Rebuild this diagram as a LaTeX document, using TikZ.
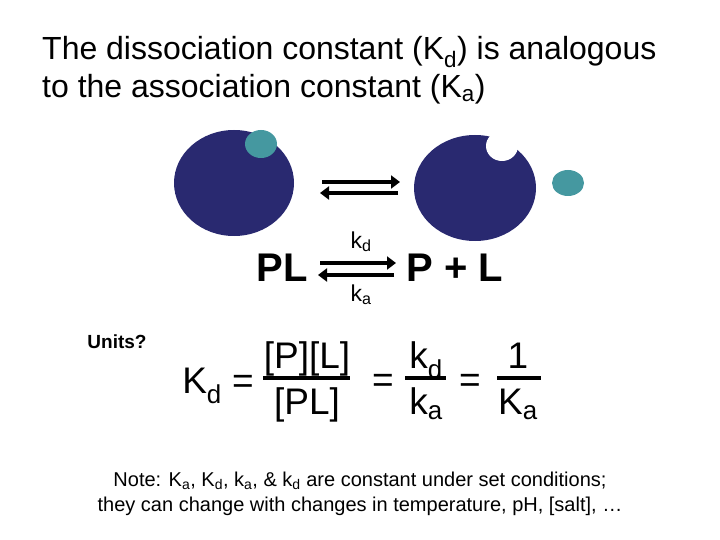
\documentclass[tikz,border=0pt]{standalone}
\usepackage{fontspec}
\setmainfont{Liberation Sans}
\usetikzlibrary{arrows.meta}
\definecolor{prot}{RGB}{41,41,112}
\definecolor{lig}{RGB}{69,152,160}
\begin{document}
\begin{tikzpicture}[x=1pt,y=-1pt,
  arr/.style={line width=4pt,-{Triangle[length=9pt,width=13pt]}},
  bar/.style={line width=4pt},
  txt/.style={inner sep=0pt,anchor=base}]
\useasboundingbox (0,0) rectangle (720,540);
\node[txt,anchor=base west,font=\fontsize{32}{36}\selectfont] (t1) at (42,60) {The dissociation constant (K\textsubscript{d}) is analogous};
\node[txt,anchor=base west,font=\fontsize{32}{36}\selectfont] (t2) at (42,98) {to the association constant (K\textsubscript{a})};
% proteins
\fill[prot] (234,183) ellipse[x radius=60,y radius=53];
\fill[lig] (261,144) ellipse[x radius=16,y radius=14];
\fill[prot] (475,188) ellipse[x radius=61,y radius=53];
\fill[white] (502,146) ellipse[x radius=16,y radius=15];
\fill[lig] (568,183) ellipse[x radius=16,y radius=13];
% arrows top
\coordinate (a1) at (322,182); \coordinate (a2) at (400,182);
\coordinate (b1) at (398,193); \coordinate (b2) at (320,193);
\draw[arr] (a1) -- (a2);
\draw[arr] (b1) -- (b2);
% reaction
\node[txt,font=\bfseries\fontsize{40}{44}\selectfont] (pl) at (282,281) {PL};
\node[txt,font=\bfseries\fontsize{40}{44}\selectfont] (pll) at (455,281) {P + L};
\coordinate (c1) at (320,263); \coordinate (c2) at (396,263);
\coordinate (d1) at (394,275); \coordinate (d2) at (318,275);
\draw[arr] (c1) -- (c2);
\draw[arr] (d1) -- (d2);
\node[txt,font=\fontsize{23}{26}\selectfont] (kd) at (361,248) {k\textsubscript{d}};
\node[txt,font=\fontsize{23}{26}\selectfont] (ka) at (361,301) {k\textsubscript{a}};
\node[txt,font=\bfseries\fontsize{19}{22}\selectfont] (u) at (117,348) {Units?};
% equation
\def\ef{\fontsize{37}{40}\selectfont}
\node[txt,font=\ef] (K) at (218,393) {K\textsubscript{d} =};
\node[txt,font=\ef] (n1) at (307,368) {[P][L]};
\node[txt,font=\ef] (d1n) at (307,414) {[PL]};
\draw[bar] (263,378) -- (350,378);
\node[txt,font=\ef] (e2) at (383,392) {=};
\node[txt,font=\ef] (n2) at (426,368) {k\textsubscript{d}};
\node[txt,font=\ef] (dd2) at (426,414) {k\textsubscript{a}};
\draw[bar] (405,378) -- (446,378);
\node[txt,font=\ef] (e3) at (470,392) {=};
\node[txt,font=\ef] (n3) at (518,368) {1};
\node[txt,font=\ef] (dd3) at (518,414) {K\textsubscript{a}};
\draw[bar] (497,378) -- (541,378);
% note
\node[txt,font=\fontsize{20}{23}\selectfont] (n1l) at (360,486) {Note: K\textsubscript{a}, K\textsubscript{d}, k\textsubscript{a}, \& k\textsubscript{d} are constant under set conditions;};
\node[txt,font=\fontsize{20}{23}\selectfont] (n2l) at (360,511) {they can change with changes in temperature, pH, [salt], …};
\end{tikzpicture}
\end{document}
